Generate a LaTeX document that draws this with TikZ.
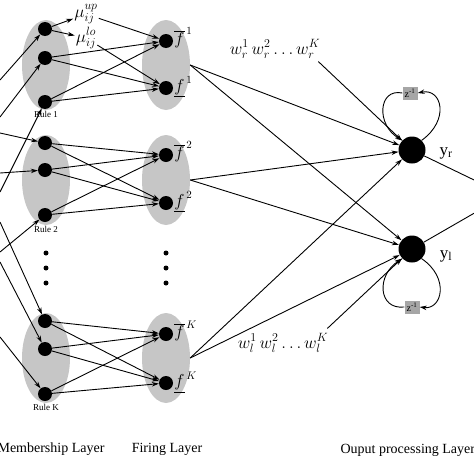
\documentclass[tikz,border=0pt]{standalone}
\usepackage{fontspec}
\setmainfont{Liberation Serif}
\usetikzlibrary{calc}
\usetikzlibrary{arrows.meta}
\usetikzlibrary{shapes.geometric}

\begin{document}
\begin{tikzpicture}[x=1pt,y=-1pt,
  neuron/.style={circle,fill=black,inner sep=0,minimum size=14pt},
  outneuron/.style={circle,fill=black,inner sep=0,minimum size=27pt},
  layer/.style={ellipse,fill=gray!45,inner sep=0,minimum width=48pt,minimum height=90pt},
  delay/.style={fill=gray!70,inner sep=1pt,minimum width=15pt,minimum height=13pt,font=\fontsize{10}{10}\selectfont},
  conn/.style={line width=.9pt,-{Stealth[length=7pt,width=4.5pt]}},
  rulelab/.style={font=\fontsize{9}{10}\selectfont,inner sep=1pt},
  flab/.style={anchor=west,inner sep=1pt,font=\fontsize{16}{18}\selectfont},
  wlab/.style={font=\fontsize{18}{20}\selectfont,inner sep=1pt},
  title/.style={font=\fontsize{14}{16}\selectfont}]
\clip (0,0) rectangle (474,474);
\foreach \r/\ye/\ya/\yb/\yc/\fa/\fb in {1/65/29/58/102/41/88, 2/180/143/170/215/155/203, K/358/321/349/394/334/383} {
 \node[layer] (mem\r) at (46,\ye) {};
 \node[layer] (fire\r) at (166,\ye) {};
 \node[neuron] (m\r-1) at (45,\ya) {};
 \node[neuron] (m\r-2) at (45,\yb) {};
 \node[neuron] (m\r-3) at (45,\yc) {};
 \node[neuron] (f\r-1) at (166,\fa) {};
 \node[neuron] (f\r-2) at (166,\fb) {};
 \node[rulelab,anchor=north] (rule\r) at (mem\r.south) {Rule \r};
 \node[flab] (fu\r) at ($(f\r-1.east)+(0,-3)$) {$\overline{f}^{\,\r}$};
 \node[flab] (fl\r) at ($(f\r-2.east)+(0,-1)$) {$\underline{f}^{\,\r}$};
}
\foreach \y in {253,268,283} {
 \fill (46,\y) circle (2.5);
 \fill (166,\y) circle (2.5);
}
\node[outneuron] (yr) at (412,150) {};
\node[outneuron] (yl) at (412,249) {};
\node[font=\fontsize{17}{19}\selectfont] (yrlab) at (446,153) {y\textsubscript{r}};
\node[font=\fontsize{17}{19}\selectfont] (yllab) at (446,256) {y\textsubscript{l}};
\node[delay] (zr) at (410,93) {z\textsuperscript{-1}};
\node[delay] (zl) at (412,307) {z\textsuperscript{-1}};
\node[font=\fontsize{17}{19}\selectfont,inner sep=1pt] (muup) at (86,14) {$\mu_{ij}^{up}$};
\node[font=\fontsize{17}{19}\selectfont,inner sep=1pt] (mulo) at (86,38) {$\mu_{ij}^{lo}$};
\node[wlab] (wr) at (275,49) {$w_r^1\,w_r^2\ldots w_r^K$};
\node[wlab] (wl) at (283,343) {$w_l^1\,w_l^2\ldots w_l^K$};
\foreach \y/\t in {80/1-1, 117/1-2, 192/1-3, 133/2-1, 173/2-2, 252/2-3, 222/K-1, 262/K-2, 337/K-3}
 \draw[conn] (0,\y) coordinate (in\t) -- (m\t);
\foreach \r in {1,2,K} {
 \foreach \i in {2,3}
  \foreach \j in {1,2}
   \draw[conn] (m\r-\i) -- (f\r-\j);
 \draw[conn] (fire\r.east) -- (yr);
 \draw[conn] (fire\r.east) -- (yl);
}
\foreach \r in {2,K}
 \foreach \j in {1,2}
  \draw[conn] (m\r-1) -- (f\r-\j);
\draw[conn] (m1-1) -- (muup);
\draw[conn] (m1-1) -- (mulo);
\draw[conn] (muup) -- (f1-1);
\draw[conn] (mulo) -- (f1-2);
\draw[conn] ($(wr.south east)+(-3,2)$) coordinate (wrfoot) -- (yr);
\draw[conn] ($(wl.north east)+(-2,-4)$) coordinate (wlfoot) -- (yl);
\draw[conn] (yr.north east) .. controls (450,120) and (442,88) .. (zr.east);
\draw[conn] (zr.west) .. controls (378,88) and (376,125) .. (yr.north west);
\draw[conn] (yl.south east) .. controls (450,278) and (442,310) .. (zl.east);
\draw[conn] (zl.west) .. controls (378,310) and (376,275) .. (yl.south west);
\coordinate (outr) at (530,207);
\coordinate (outl) at (530,181);
\draw[line width=.9pt] (yr) -- (outr);
\draw[line width=.9pt] (yl) -- (outl);
\node[title,anchor=east] (memtitle) at (108,449) {Membership Layer};
\node[title] (firetitle) at (167,449) {Firing Layer};
\node[title,anchor=west] (outtitle) at (337,450) {Ouput processing Layer};
\end{tikzpicture}
\end{document}
